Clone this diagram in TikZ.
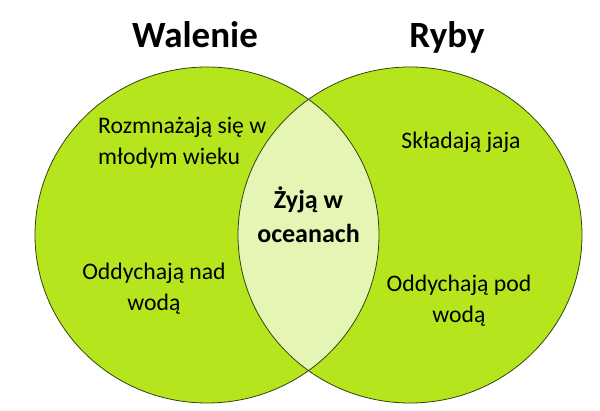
\documentclass[tikz,border=0pt]{standalone}
\usepackage{fontspec}
\setmainfont{Carlito}
\usepackage{tikz}

\definecolor{setgreen}{RGB}{181,230,29}
\definecolor{lensgreen}{RGB}{229,245,180}
\definecolor{setline}{RGB}{52,66,14}

\tikzset{
    settitle/.style={anchor=base, inner sep=0pt, font=\fontsize{37}{44}\selectfont\bfseries},
    settext/.style={anchor=base, inner sep=0pt, align=center, font=\fontsize{23.7}{31.5}\selectfont},
    setring/.style={draw=setline, line width=0.8pt}
}

\begin{document}
\begin{tikzpicture}[x=1pt, y=-1pt]
        \useasboundingbox (0,0) rectangle (600,411);

        \coordinate (walc) at (207,235);
        \coordinate (rybc) at (410,235);

        \fill[setgreen] (walc) ellipse [x radius=172pt, y radius=168pt];
        \fill[setgreen] (rybc) ellipse [x radius=172pt, y radius=168pt];
        \begin{scope}
            \clip (walc) ellipse [x radius=172pt, y radius=168pt];
            \fill[lensgreen] (rybc) ellipse [x radius=172pt, y radius=168pt];
        \end{scope}
        \draw[setring] (walc) ellipse [x radius=172pt, y radius=168pt];
        \draw[setring] (rybc) ellipse [x radius=172pt, y radius=168pt];

        \node[settitle] (walenie) at (195, 48) {Walenie};
        \node[settitle] (ryby) at (447, 48) {Ryby};

        % base = last line
        \node[settext, anchor=base west, align=left] (rozm) at (98, 165) {Rozmnażają się w\\młodym wieku};
        \node[settext] (nad) at (154, 311) {Oddychają nad\\wodą};

        \node[settext, font=\fontsize{26}{34}\selectfont\bfseries] (zyja) at (308.5, 243) {Żyją w\\oceanach};

        \node[settext] (sklad) at (461, 149) {Składają jaja};
        \node[settext] (pod) at (459, 323) {Oddychają pod\\wodą};

    \end{tikzpicture}
\end{document}
